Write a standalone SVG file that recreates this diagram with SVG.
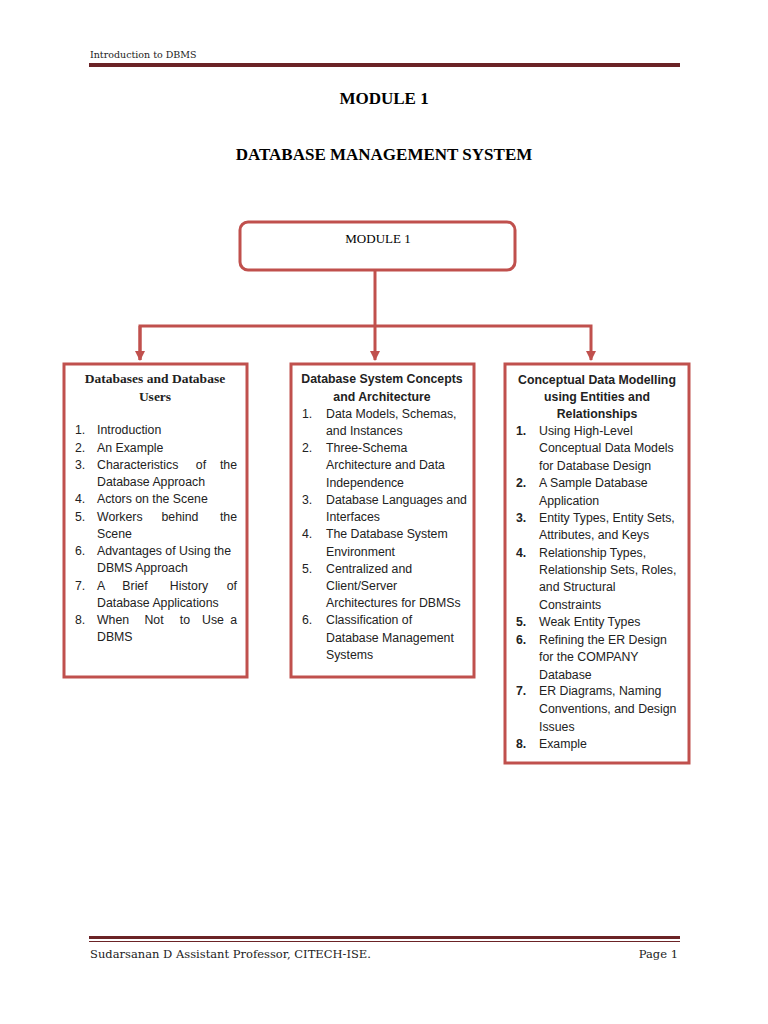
<svg xmlns="http://www.w3.org/2000/svg" width="768" height="1024" viewBox="0 0 768 1024">
<style>
.hd{font-family:"Liberation Serif",serif;font-weight:bold;font-size:17px;fill:#000;text-anchor:middle}
.bx{fill:#fff;stroke:#c0504d;stroke-width:3}
.t{font-family:"Liberation Sans",Arial,sans-serif;font-size:12.3px;fill:#222}
.tb{font-family:"Liberation Sans",Arial,sans-serif;font-size:12.3px;font-weight:bold;fill:#222;text-anchor:middle}
.ts{font-family:"Liberation Serif",serif;font-size:13.5px;font-weight:bold;fill:#222;text-anchor:middle}
.n{font-weight:bold}
.e{text-anchor:end}
.m{text-anchor:middle}
.ln{stroke:#c0504d;stroke-width:3;fill:none}
</style>
<defs><marker id="ar" viewBox="0 0 10 10" refX="9" refY="5" markerWidth="3.5" markerHeight="3.5" orient="auto"><path d="M0,0L10,5L0,10z" fill="#c0504d"/></marker></defs>
<rect width="768" height="1024" fill="#fff"/>
<text x="90" y="58" font-family="DejaVu Serif,serif" font-size="9.5" fill="#222">Introduction to DBMS</text>
<rect x="89" y="63" width="591" height="4" fill="#6b2326"/>
<text x="384" y="104" class="hd">MODULE 1</text>
<text x="384" y="160" class="hd">DATABASE MANAGEMENT SYSTEM</text>
<g id="connectors">
<path class="ln" d="M375,270V360" marker-end="url(#ar)"/>
<path class="ln" d="M140,360V326H591V360" marker-end="url(#ar)"/>
<path class="ln" d="M140,326V360" marker-end="url(#ar)"/>
</g>
<g id="top"><rect class="bx" x="240" y="222" width="275" height="48" rx="8"/>
<text x="378" y="243" font-family="Liberation Serif,serif" font-size="13" text-anchor="middle">MODULE 1</text></g>
<g id="left"><rect class="bx" x="64" y="364" width="183" height="313"/>
<text class="ts" x="155" y="383">Databases and Database</text>
<text class="ts" x="155" y="401">Users</text>
<g class="t">
<text x="75" y="434">1.</text><text x="97" y="434">Introduction</text>
<text x="75" y="452">2.</text><text x="97" y="452">An Example</text>
<text x="75" y="469">3.</text><text x="97" y="469">Characteristics</text><text class="m" x="201" y="469">of</text><text class="e" x="237" y="469">the</text>
<text x="97" y="486">Database Approach</text>
<text x="75" y="503">4.</text><text x="97" y="503">Actors on the Scene</text>
<text x="75" y="521">5.</text><text x="97" y="521">Workers</text><text class="m" x="180" y="521">behind</text><text class="e" x="237" y="521">the</text>
<text x="97" y="538">Scene</text>
<text x="75" y="555">6.</text><text x="97" y="555">Advantages of Using the</text>
<text x="97" y="572">DBMS Approach</text>
<text x="75" y="590">7.</text><text x="97" y="590">A</text><text class="m" x="135" y="590">Brief</text><text class="m" x="189" y="590">History</text><text class="e" x="237" y="590">of</text>
<text x="97" y="607">Database Applications</text>
<text x="75" y="624">8.</text><text x="97" y="624">When</text><text class="m" x="154" y="624">Not</text><text class="m" x="185" y="624">to</text><text class="m" x="213" y="624">Use</text><text class="e" x="237" y="624">a</text>
<text x="97" y="641">DBMS</text>
</g></g>
<g id="center"><rect class="bx" x="291" y="364" width="183" height="313"/>
<text class="tb" x="382" y="383">Database System Concepts</text>
<text class="tb" x="382" y="401">and Architecture</text>
<g class="t">
<text x="302" y="418">1.</text><text x="326" y="418">Data Models, Schemas,</text>
<text x="326" y="435">and Instances</text>
<text x="302" y="452">2.</text><text x="326" y="452">Three-Schema</text>
<text x="326" y="469">Architecture and Data</text>
<text x="326" y="487">Independence</text>
<text x="302" y="504">3.</text><text x="326" y="504">Database Languages and</text>
<text x="326" y="521">Interfaces</text>
<text x="302" y="538">4.</text><text x="326" y="538">The Database System</text>
<text x="326" y="556">Environment</text>
<text x="302" y="573">5.</text><text x="326" y="573">Centralized and</text>
<text x="326" y="590">Client/Server</text>
<text x="326" y="607">Architectures for DBMSs</text>
<text x="302" y="624">6.</text><text x="326" y="624">Classification of</text>
<text x="326" y="642">Database Management</text>
<text x="326" y="659">Systems</text>
</g></g>
<g id="right"><rect class="bx" x="505" y="364" width="184" height="399"/>
<text class="tb" x="597" y="384">Conceptual Data Modelling</text>
<text class="tb" x="597" y="401">using Entities and</text>
<text class="tb" x="597" y="418">Relationships</text>
<g class="t">
<text class="n" x="516" y="435">1.</text><text x="539" y="435">Using High-Level</text>
<text x="539" y="452">Conceptual Data Models</text>
<text x="539" y="470">for Database Design</text>
<text class="n" x="516" y="487">2.</text><text x="539" y="487">A Sample Database</text>
<text x="539" y="505">Application</text>
<text class="n" x="516" y="522">3.</text><text x="539" y="522">Entity Types, Entity Sets,</text>
<text x="539" y="539">Attributes, and Keys</text>
<text class="n" x="516" y="557">4.</text><text x="539" y="557">Relationship Types,</text>
<text x="539" y="574">Relationship Sets, Roles,</text>
<text x="539" y="591">and Structural</text>
<text x="539" y="609">Constraints</text>
<text class="n" x="516" y="626">5.</text><text x="539" y="626">Weak Entity Types</text>
<text class="n" x="516" y="644">6.</text><text x="539" y="644">Refining the ER Design</text>
<text x="539" y="661">for the COMPANY</text>
<text x="539" y="679">Database</text>
<text class="n" x="516" y="695">7.</text><text x="539" y="695">ER Diagrams, Naming</text>
<text x="539" y="713">Conventions, and Design</text>
<text x="539" y="731">Issues</text>
<text class="n" x="516" y="748">8.</text><text x="539" y="748">Example</text>
</g></g>
<rect x="89" y="936" width="591" height="3" fill="#6b2326"/>
<rect x="89" y="941" width="591" height="1" fill="#6b2326"/>
<text x="90" y="958" font-family="DejaVu Serif,serif" font-size="11.5" fill="#222">Sudarsanan D Assistant Professor, CITECH-ISE.</text>
<text x="678" y="958" font-family="DejaVu Serif,serif" font-size="11.5" fill="#222" text-anchor="end">Page 1</text>
</svg>
